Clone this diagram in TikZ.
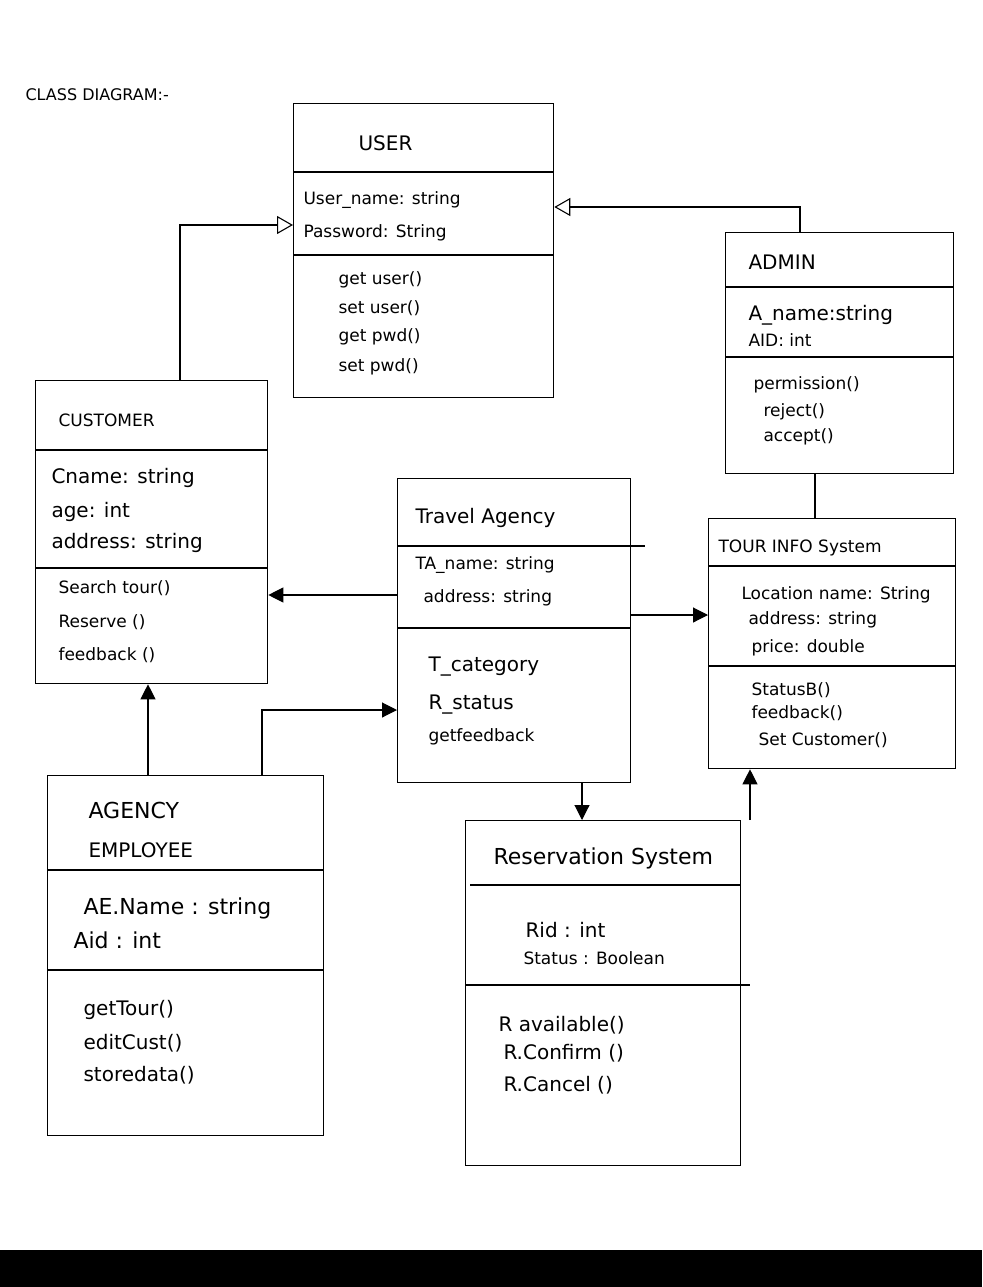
\documentclass[tikz,border=0pt]{standalone}
\usepackage{fontspec}
\setmainfont{DejaVu Sans}
\usetikzlibrary{arrows.meta}
\begin{document}
\begin{tikzpicture}[x=1pt,y=-1pt,
  box/.style={draw,line width=1.3pt},
  sep/.style={line width=1.1pt},
  t/.style={anchor=west,font=\fontsize{17}{19}\selectfont},
  big/.style={font=\fontsize{20}{22}\selectfont},
  inh/.style={line width=1.1pt,-{Triangle[open,length=16pt,width=18pt]}},
  ass/.style={line width=1.1pt,-{Triangle[length=15pt,width=15pt]}},
  pl/.style={line width=1.1pt}]
\useasboundingbox (0,0) rectangle (982,1287);
\fill[black] (0,1250) rectangle (982,1287);
\node[t,font=\fontsize{16}{18}\selectfont] (title) at (22,95) {CLASS DIAGRAM:-};
% USER
\node[box,minimum width=260pt,minimum height=294pt,anchor=north west] (user) at (293,103) {};
\draw[sep] (293,172) -- (553,172); \draw[sep] (293,255) -- (553,255);
\node[t,big] (u0) at (355,143) {USER};
\node[t] (u1) at (300,200) {User\_name: string};
\node[t] (u2) at (300,233) {Password: String};
\node[t] (u3) at (335,280) {get user()};
\node[t] (u4) at (335,308) {set user()};
\node[t] (u5) at (335,337) {get pwd()};
\node[t] (u6) at (335,367) {set pwd()};
% ADMIN
\node[box,minimum width=228pt,minimum height=241pt,anchor=north west] (admin) at (725,232) {};
\draw[sep] (725,287) -- (953,287); \draw[sep] (725,357) -- (953,357);
\node[t,big] (a0) at (745,262) {ADMIN};
\node[t,big] (a1) at (745,315) {A\_name:string};
\node[t] (a2) at (745,340) {AID: int};
\node[t] (a3) at (750,385) {permission()};
\node[t] (a4) at (760,412) {reject()};
\node[t] (a5) at (760,437) {accept()};
% CUSTOMER
\node[box,minimum width=232pt,minimum height=303pt,anchor=north west] (cust) at (35,380) {};
\draw[sep] (35,450) -- (267,450); \draw[sep] (35,568) -- (267,568);
\node[t] (c0) at (55,420) {CUSTOMER};
\node[t,big] (c1) at (48,478) {Cname: string};
\node[t,big] (c2) at (48,512) {age: int};
\node[t,big] (c3) at (48,543) {address: string};
\node[t] (c4) at (55,588) {Search tour()};
\node[t] (c5) at (55,622) {Reserve ()};
\node[t] (c6) at (55,655) {feedback ()};
% TRAVEL AGENCY
\node[box,minimum width=233pt,minimum height=304pt,anchor=north west] (ta) at (397,478) {};
\draw[sep] (397,546) -- (645,546); \draw[sep] (397,628) -- (630,628);
\node[t,big] (ta0) at (412,518) {Travel Agency};
\node[t] (ta1) at (412,565) {TA\_name: string};
\node[t] (ta2) at (420,598) {address: string};
\node[t,big] (ta3) at (425,667) {T\_category};
\node[t,big] (ta4) at (425,705) {R\_status};
\node[t] (ta5) at (425,737) {getfeedback};
% TOUR INFO
\node[box,minimum width=247pt,minimum height=250pt,anchor=north west] (tour) at (708,518) {};
\draw[sep] (708,566) -- (955,566); \draw[sep] (708,666) -- (955,666);
\node[t] (ti0) at (715,548) {TOUR INFO System};
\node[t] (ti1) at (738,595) {Location name: String};
\node[t] (ti2) at (745,620) {address: string};
\node[t] (ti3) at (748,648) {price: double};
\node[t] (ti4) at (748,690) {StatusB()};
\node[t] (ti5) at (748,713) {feedback()};
\node[t] (ti6) at (755,740) {Set Customer()};
% AGENCY EMPLOYEE
\node[box,minimum width=276pt,minimum height=360pt,anchor=north west] (ae) at (47,775) {};
\draw[sep] (47,870) -- (323,870); \draw[sep] (47,970) -- (323,970);
\node[t,font=\fontsize{22}{24}\selectfont] (ae0) at (85,810) {AGENCY};
\node[t,big] (ae1) at (85,850) {EMPLOYEE};
\node[t,font=\fontsize{22}{24}\selectfont] (ae2) at (80,908) {AE.Name : string};
\node[t,font=\fontsize{22}{24}\selectfont] (ae3) at (70,940) {Aid : int};
\node[t,big] (ae4) at (80,1010) {getTour()};
\node[t,big] (ae5) at (80,1043) {editCust()};
\node[t,big] (ae6) at (80,1075) {storedata()};
% RESERVATION SYSTEM
\node[box,minimum width=275pt,minimum height=345pt,anchor=north west] (rs) at (465,820) {};
\draw[sep] (470,885) -- (740,885); \draw[sep] (465,985) -- (750,985);
\node[t,font=\fontsize{22}{24}\selectfont] (rs0) at (490,858) {Reservation System};
\node[t,big] (rs1) at (522,930) {Rid : int};
\node[t] (rs2) at (520,958) {Status : Boolean};
\node[t,big] (rs3) at (495,1025) {R available()};
\node[t,big] (rs4) at (500,1053) {R.Confirm ()};
\node[t,big] (rs5) at (500,1085) {R.Cancel ()};
% connectors
\draw[inh] (cust.north west) ++(145,0) |- (user.west |- 0,225);
\draw[inh] (admin.north west) ++(75,0) |- (user.east |- 0,207);
\draw[pl] (admin.south west) ++(90,0) -- ++(0,45);
\draw[ass] (ta.west |- 0,595) -- (cust.east |- 0,595);
\draw[ass] (ta.east |- 0,615) -- (tour.west |- 0,615);
\draw[ass] (ae.north west) ++(101,0) -- (cust.south west -| 148,0);
\draw[ass] (ae.north west) ++(215,0) |- (ta.west |- 0,710);
\draw[ass] (ta.south west) ++(185,0) -- (rs.north west -| 582,0);
\draw[ass] (rs.north west) ++(285,0) -- (tour.south west -| 750,0);
\end{tikzpicture}
\end{document}
